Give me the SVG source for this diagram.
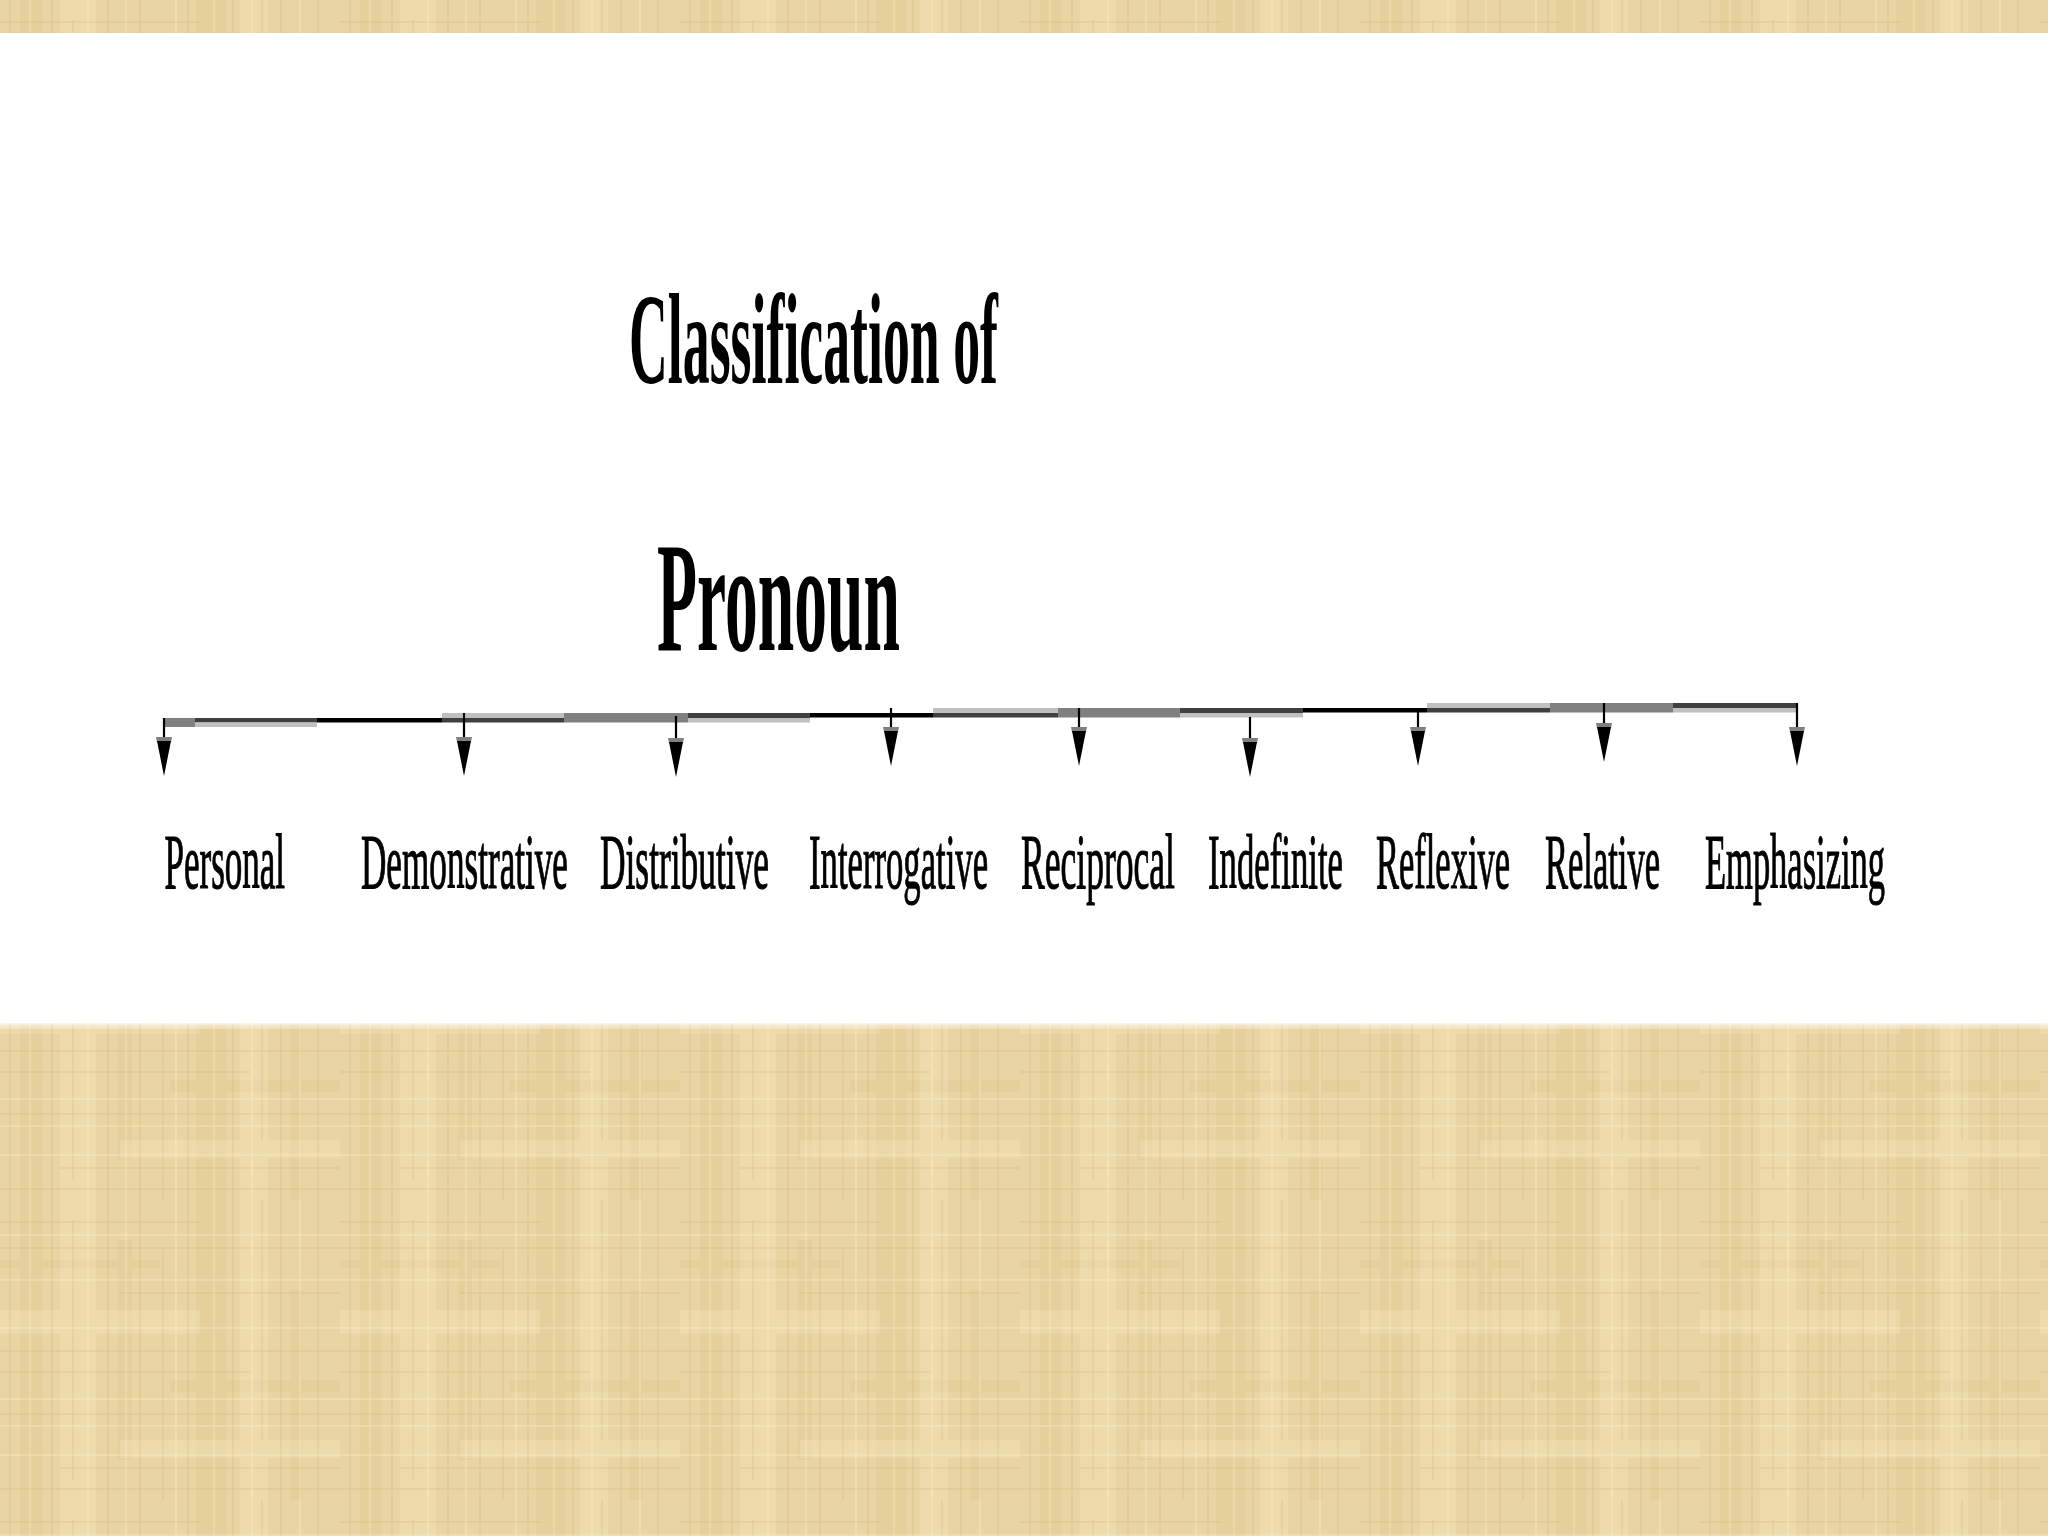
<svg xmlns="http://www.w3.org/2000/svg" xmlns:xlink="http://www.w3.org/1999/xlink" width="2048" height="1536" viewBox="0 0 2048 1536">
<style>
.k{fill:#000}.d{fill:#404040}.l{fill:#c0c0c0}.m{fill:#808080}
.stem{stroke:#000;stroke-width:2.2}
.ttl{font-family:"Liberation Serif","Times New Roman",serif;font-weight:bold;fill:#000}
.lbl{font-family:"Liberation Serif","Times New Roman",serif;font-size:78px;fill:#000;stroke:#000;stroke-width:0.9;vector-effect:non-scaling-stroke}
</style>
<defs>
<pattern id="papyrus" patternUnits="userSpaceOnUse" width="340" height="300">
<rect width="340" height="300" fill="#e9d5a3"/>
<g fill="#d6ba7d" opacity="0.22">
<rect x="20" y="0" width="22" height="300"/><rect x="118" y="40" width="14" height="220"/>
<rect x="196" y="0" width="30" height="300"/><rect x="290" y="90" width="12" height="210"/>
<rect x="0" y="60" width="160" height="8"/><rect x="170" y="180" width="170" height="12"/>
</g>
<g fill="#f3e5bd" opacity="0.35">
<rect x="60" y="0" width="36" height="300"/><rect x="240" y="0" width="28" height="300"/>
<rect x="0" y="110" width="200" height="24"/><rect x="120" y="240" width="220" height="18"/>
</g>
<g stroke="#c9a966" stroke-width="1" opacity="0.4" fill="none">
<path d="M10 0V300M52 0V300M73 20V280M108 0V300M140 0V300M163 50V300M188 0V300M233 0V300M262 0V240M281 0V300M318 0V300"/>
<path d="M0 22H200M0 48H340M120 93H340M0 151H340M0 172H250M0 214H340M60 268H340M0 289H340"/>
</g>
<g stroke="#fbf0cf" stroke-width="1" opacity="0.6" fill="none">
<path d="M30 0V300M88 0V300M126 0V300M176 0V300M214 0V300M252 0V300M300 0V300"/>
<path d="M0 35H340M0 80H340M0 128H340M0 199H340M0 226H340M0 255H340"/>
</g>
</pattern>
<linearGradient id="edge" x1="0" y1="0" x2="0" y2="1">
<stop offset="0" stop-color="#fff" stop-opacity="0.8"/>
<stop offset="1" stop-color="#fff" stop-opacity="0"/>
</linearGradient>
<g id="ah">
<polygon class="m" points="-8,0 8,0 7,5 -7,5"/>
<polygon class="k" points="-7,4 7,4 0,39"/>
</g>
</defs>

<rect width="2048" height="1536" fill="#fff"/>
<rect x="0" y="0" width="2048" height="33" fill="url(#papyrus)"/>
<rect x="0" y="1023" width="2048" height="513" fill="url(#papyrus)"/>
<rect x="0" y="1023" width="2048" height="6" fill="url(#edge)"/>

<g id="title" transform="scale(0.43,1)">
<text class="ttl" x="1462.8" y="383" font-size="130" textLength="858.1" lengthAdjust="spacingAndGlyphs">Classification of</text>
</g>
<g id="root" transform="scale(0.42,1)">
<text class="ttl" x="1564.3" y="650" font-size="156" textLength="578.6" lengthAdjust="spacingAndGlyphs">Pronoun</text>
</g>

<g id="connectors">
<g id="bar">
<rect class="m" x="164" y="718" width="31" height="9"/>
<rect class="d" x="195" y="718" width="122" height="4.5"/><rect class="l" x="195" y="722.5" width="122" height="4.5"/>
<rect class="k" x="317" y="718" width="125" height="4.5"/>
<rect class="l" x="442" y="713" width="122" height="5"/><rect class="d" x="442" y="718" width="122" height="4.5"/>
<rect class="m" x="564" y="713" width="124" height="9.5"/>
<rect class="d" x="688" y="713" width="122" height="5"/><rect class="l" x="688" y="718" width="122" height="4.5"/>
<rect class="k" x="810" y="713" width="123" height="4.5"/>
<rect class="l" x="933" y="708" width="125" height="5"/><rect class="d" x="933" y="713" width="125" height="4.5"/>
<rect class="m" x="1058" y="708" width="122" height="9.5"/>
<rect class="d" x="1180" y="708" width="123" height="5"/><rect class="l" x="1180" y="713" width="123" height="4.5"/>
<rect class="k" x="1303" y="708" width="124" height="4.5"/>
<rect class="l" x="1427" y="703" width="123" height="5"/><rect class="d" x="1427" y="708" width="123" height="4.5"/>
<rect class="m" x="1550" y="703" width="123" height="9.5"/>
<rect class="d" x="1673" y="703" width="124" height="5"/><rect class="l" x="1673" y="708" width="124" height="4.5"/>
</g>
<line class="stem" x1="164" y1="718" x2="164" y2="740"/><use xlink:href="#ah" href="#ah" x="164" y="737"/>
<line class="stem" x1="464" y1="713" x2="464" y2="740"/><use xlink:href="#ah" href="#ah" x="464" y="737"/>
<line class="stem" x1="676" y1="716" x2="676" y2="741"/><use xlink:href="#ah" href="#ah" x="676" y="738"/>
<line class="stem" x1="891" y1="708" x2="891" y2="730"/><use xlink:href="#ah" href="#ah" x="891" y="727"/>
<line class="stem" x1="1079" y1="708" x2="1079" y2="730"/><use xlink:href="#ah" href="#ah" x="1079" y="727"/>
<line class="stem" x1="1250" y1="717" x2="1250" y2="741"/><use xlink:href="#ah" href="#ah" x="1250" y="738"/>
<line class="stem" x1="1418" y1="710" x2="1418" y2="730"/><use xlink:href="#ah" href="#ah" x="1418" y="727"/>
<line class="stem" x1="1604" y1="703" x2="1604" y2="726"/><use xlink:href="#ah" href="#ah" x="1604" y="723"/>
<line class="stem" x1="1797" y1="703" x2="1797" y2="730"/><use xlink:href="#ah" href="#ah" x="1797" y="727"/>
</g>

<g transform="scale(0.45,1)">
<g id="n-personal"><text class="lbl" x="365.6" y="888" textLength="267.8" lengthAdjust="spacingAndGlyphs">Personal</text></g>
<g id="n-demonstrative"><text class="lbl" x="802.2" y="888" textLength="460" lengthAdjust="spacingAndGlyphs">Demonstrative</text></g>
<g id="n-distributive"><text class="lbl" x="1333.3" y="888" textLength="375.6" lengthAdjust="spacingAndGlyphs">Distributive</text></g>
<g id="n-interrogative"><text class="lbl" x="1797.8" y="888" textLength="397.8" lengthAdjust="spacingAndGlyphs">Interrogative</text></g>
<g id="n-reciprocal"><text class="lbl" x="2268.9" y="888" textLength="342.2" lengthAdjust="spacingAndGlyphs">Reciprocal</text></g>
<g id="n-indefinite"><text class="lbl" x="2684.4" y="888" textLength="300" lengthAdjust="spacingAndGlyphs">Indefinite</text></g>
<g id="n-reflexive"><text class="lbl" x="3057.8" y="888" textLength="297.8" lengthAdjust="spacingAndGlyphs">Reflexive</text></g>
<g id="n-relative"><text class="lbl" x="3433.3" y="888" textLength="255.6" lengthAdjust="spacingAndGlyphs">Relative</text></g>
<g id="n-emphasizing"><text class="lbl" x="3788.9" y="888" textLength="400" lengthAdjust="spacingAndGlyphs">Emphasizing</text></g>
</g>
</svg>
